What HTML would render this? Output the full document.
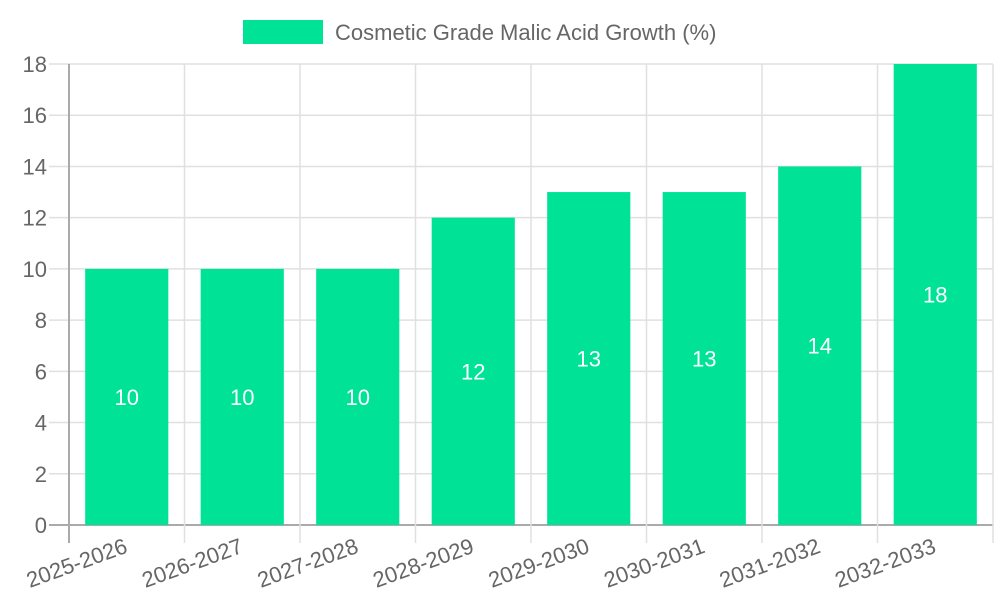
<!DOCTYPE html>
<html><head><meta charset="utf-8"><style>body{margin:0;background:#fff}svg{display:block;font-family:"Liberation Sans",sans-serif}</style></head>
<body>
<svg id="chart" width="1000" height="600" xmlns="http://www.w3.org/2000/svg">
<rect x="243" y="20" width="80" height="24" fill="#00e396"/>
<text x="335" y="40" font-size="22" fill="#666">Cosmetic Grade Malic Acid Growth (%)</text>
<g id="grid"></g><g id="bars"></g><g id="labels"></g>
</svg>
<script>
const categories=["2025-2026","2026-2027","2027-2028","2028-2029","2029-2030","2030-2031","2031-2032","2032-2033"];
const values=[10,10,10,12,13,13,14,18];
const yTicks=[0,2,4,6,8,10,12,14,16,18];
const NS="http://www.w3.org/2000/svg";
const L=69,R=993,T=64,B=525,yMax=18;
const bw=(R-L)/categories.length;
const y=v=>B-(v/yMax)*(B-T);
const x=i=>L+i*bw;
function mk(tag,attrs,parent){const e=document.createElementNS(NS,tag);for(const k in attrs)e.setAttribute(k,attrs[k]);parent.appendChild(e);return e;}
const g=document.getElementById('grid'),bg=document.getElementById('bars'),lg=document.getElementById('labels');
yTicks.forEach(t=>{
  const ln=mk('line',{x1:49,x2:R,y1:y(t),y2:y(t),stroke:t===0?'#aaa':'#e0e0e0','stroke-width':t===0?2:1.5},g);
  
  
  const tx=mk('text',{x:47,y:y(t)+8,'text-anchor':'end','font-size':22,fill:'#666'},g);
  tx.textContent=t;
  
  
});
for(let i=0;i<=categories.length;i++){
  const ln=mk('line',{x1:x(i),x2:x(i),y1:T,y2:543,stroke:i===0?'#aaa':'#e0e0e0','stroke-width':i===0?2:1.5},g);
  
  
}
categories.forEach((c,i)=>{
  const cx=x(i)+bw/2,w=bw*0.72,v=values[i];
  const r=mk('rect',{x:cx-w/2,y:y(v),width:w,height:B-y(v),fill:'#00e396'},bg);
  
  
  const vt=mk('text',{x:cx,y:(y(v)+B)/2+8,'text-anchor':'middle','font-size':22,fill:'#fff'},lg);
  vt.textContent=v;
  
  
  const xt=mk('text',{x:cx+2,y:552,'text-anchor':'end','font-size':22,fill:'#666',transform:`rotate(-20 ${cx+2} 552)`},lg);
  xt.textContent=c;
  
  
});
</script>
</body></html>
